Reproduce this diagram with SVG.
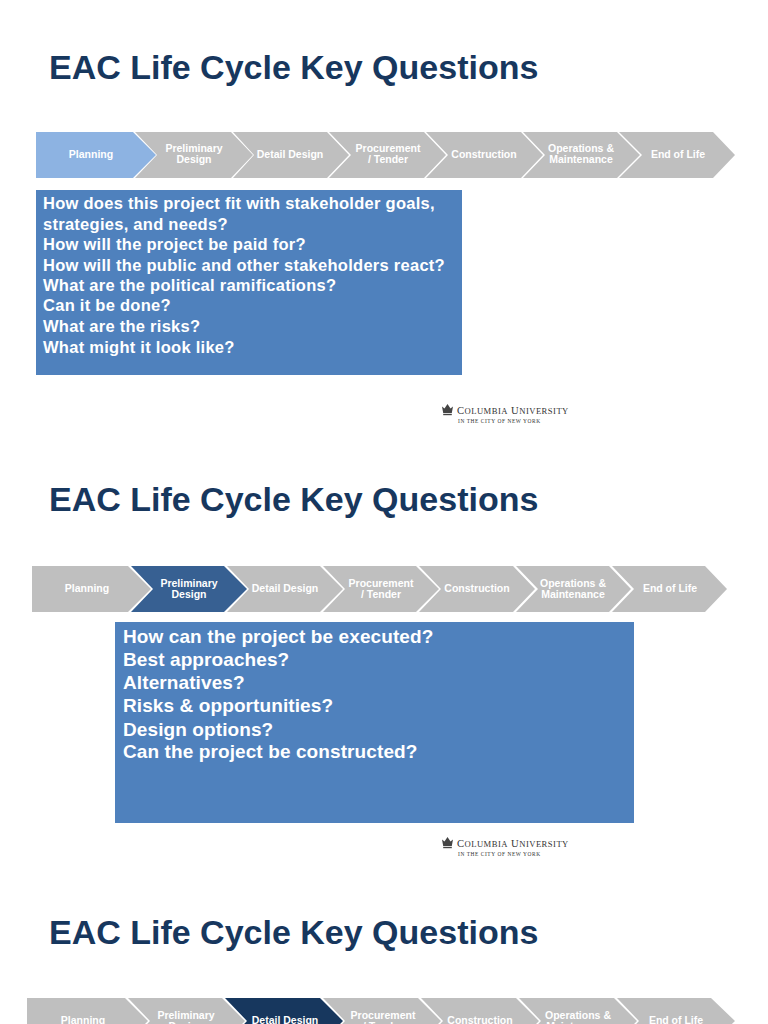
<svg xmlns="http://www.w3.org/2000/svg" width="768" height="1024" viewBox="0 0 768 1024">
<style>
text{font-family:"Liberation Sans",Arial,sans-serif}
.title{font-size:34px;font-weight:700;fill:#17375e}
.s{fill:#bfbfbf}
.l{font-size:10.5px;font-weight:700;fill:#fff;text-anchor:middle}
.box{fill:#4f81bd}
.q1{font-size:16.5px;font-weight:700;fill:#fff;letter-spacing:.27px}
.q2{font-size:19px;font-weight:700;fill:#fff;letter-spacing:.1px}
.logo{font-family:"Liberation Serif",serif;fill:#333}
.logo1{font-size:10.6px;letter-spacing:.47px}
.logo2{font-size:5.4px;letter-spacing:.58px}
.crown{fill:#444}
</style>
<defs>
<g id="logo">
<path class="crown" d="M1 3.5L3.5 5.5L6.5 1L9.5 5.5L12 3.500L10.800 10H2.200Z"/>
<rect class="crown" x="2.200" y="10.800" width="8.600" height="1.400"/>
<text class="logo logo1" x="16" y="10.500">C<tspan font-size="8.600">OLUMBIA</tspan> U<tspan font-size="8.600">NIVERSITY</tspan></text>
<text class="logo logo2" x="17" y="19.500">IN THE CITY OF NEW YORK</text>
</g>
</defs>

<g id="title-1"><text class="title" x="49" y="79">EAC Life Cycle Key Questions</text></g>
<g id="chevrons-1">
<g id="r1-planning"><path d="M36 132H133L156 155L133 178H36Z" fill="#8db3e2"/><text class="l" x="91" y="158">Planning</text></g>
<g id="r1-preliminary"><path class="s" d="M135 132H231L253 155L231 178H135L157 155Z"/><text class="l" x="194" y="152">Preliminary</text><text class="l" x="194" y="163">Design</text></g>
<g id="r1-detail"><path class="s" d="M233 132H327L349 155L327 178H233L254 155Z"/><text class="l" x="290" y="158">Detail Design</text></g>
<g id="r1-procurement"><path class="s" d="M329 132H424L446 155L424 178H329L351 155Z"/><text class="l" x="388" y="152">Procurement</text><text class="l" x="388" y="163">/ Tender</text></g>
<g id="r1-construction"><path class="s" d="M426 132H521L543 155L521 178H426L448 155Z"/><text class="l" x="484" y="158">Construction</text></g>
<g id="r1-operations"><path class="s" d="M523 132H617L640 155L617 178H523L545 155Z"/><text class="l" x="581" y="152">Operations &amp;</text><text class="l" x="581" y="163">Maintenance</text></g>
<g id="r1-end"><path class="s" d="M619 132H713L735 155L713 178H619L642 155Z"/><text class="l" x="678" y="158">End of Life</text></g>
</g>
<g id="questions-1">
<rect class="box" x="36" y="190" width="426" height="185"/>
<text class="q1" x="43" y="209">How does this project fit with stakeholder goals,</text>
<text class="q1" x="43" y="230">strategies, and needs?</text>
<text class="q1" x="43" y="250">How will the project be paid for?</text>
<text class="q1" x="43" y="271">How will the public and other stakeholders react?</text>
<text class="q1" x="43" y="291">What are the political ramifications?</text>
<text class="q1" x="43" y="311">Can it be done?</text>
<text class="q1" x="43" y="332">What are the risks?</text>
<text class="q1" x="43" y="353">What might it look like?</text>
</g>
<use id="logo-1" href="#logo" x="441" y="403"/>

<g id="title-2"><text class="title" x="49" y="511">EAC Life Cycle Key Questions</text></g>
<g id="chevrons-2">
<g id="r2-planning"><path class="s" d="M32 566H128L151 589L128 612H32Z"/><text class="l" x="87" y="592">Planning</text></g>
<g id="r2-preliminary"><path d="M131 566H224L247 589L224 612H131L153 589Z" fill="#376092"/><text class="l" x="189" y="587">Preliminary</text><text class="l" x="189" y="598">Design</text></g>
<g id="r2-detail"><path class="s" d="M227 566H320L343 589L320 612H227L249 589Z"/><text class="l" x="285" y="592">Detail Design</text></g>
<g id="r2-procurement"><path class="s" d="M323 566H416L439 589L416 612H323L345 589Z"/><text class="l" x="381" y="587">Procurement</text><text class="l" x="381" y="598">/ Tender</text></g>
<g id="r2-construction"><path class="s" d="M419 566H513L535 589L513 612H419L441 589Z"/><text class="l" x="477" y="592">Construction</text></g>
<g id="r2-operations"><path class="s" d="M516 566H609L631 589L609 612H516L538 589Z"/><text class="l" x="573" y="587">Operations &amp;</text><text class="l" x="573" y="598">Maintenance</text></g>
<g id="r2-end"><path class="s" d="M612 566H705L727 589L705 612H612L634 589Z"/><text class="l" x="670" y="592">End of Life</text></g>
</g>
<g id="questions-2">
<rect class="box" x="115" y="622" width="519" height="201"/>
<text class="q2" x="123" y="643">How can the project be executed?</text>
<text class="q2" x="123" y="666">Best approaches?</text>
<text class="q2" x="123" y="689">Alternatives?</text>
<text class="q2" x="123" y="712">Risks &amp; opportunities?</text>
<text class="q2" x="123" y="736">Design options?</text>
<text class="q2" x="123" y="758">Can the project be constructed?</text>
</g>
<use id="logo-2" href="#logo" x="441" y="836"/>

<g id="title-3"><text class="title" x="49" y="944">EAC Life Cycle Key Questions</text></g>
<g id="chevrons-3">
<g id="r3-planning"><path class="s" d="M27 998H125L148 1021L125 1044H27Z"/><text class="l" x="83" y="1024">Planning</text></g>
<g id="r3-preliminary"><path class="s" d="M128 998H222L245 1021L222 1044H128L150 1021Z"/><text class="l" x="186" y="1019">Preliminary</text><text class="l" x="186" y="1030">Design</text></g>
<g id="r3-detail"><path d="M225 998H320L343 1021L320 1044H225L247 1021Z" fill="#17375e"/><text class="l" x="285" y="1024">Detail Design</text></g>
<g id="r3-procurement"><path class="s" d="M323 998H418L441 1021L418 1044H323L345 1021Z"/><text class="l" x="383" y="1019">Procurement</text><text class="l" x="383" y="1030">/ Tender</text></g>
<g id="r3-construction"><path class="s" d="M421 998H516L539 1021L516 1044H421L443 1021Z"/><text class="l" x="480" y="1024">Construction</text></g>
<g id="r3-operations"><path class="s" d="M519 998H614L637 1021L614 1044H519L541 1021Z"/><text class="l" x="578" y="1019">Operations &amp;</text><text class="l" x="578" y="1030">Maintenance</text></g>
<g id="r3-end"><path class="s" d="M617 998H711L735 1021L711 1044H617L639 1021Z"/><text class="l" x="676" y="1024">End of Life</text></g>
</g>
</svg>
